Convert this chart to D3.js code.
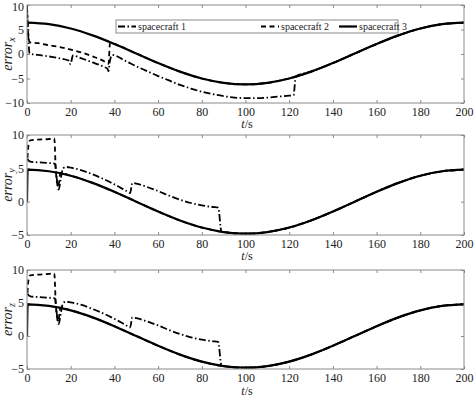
<!DOCTYPE html>
<html>
<head>
<meta charset="utf-8">
<script src="https://cdn.jsdelivr.net/npm/d3@7"></script>
<style>
  body { margin: 0; background: #fff; }
  svg { display: block; }
  svg text { font-family: "Liberation Serif", "Times New Roman", Times, "DejaVu Serif", serif; }
</style>
</head>
<body>
<svg id="chart" width="474" height="399"></svg>
<script>
const SERIES_NAMES = ["spacecraft 1", "spacecraft 2", "spacecraft 3"];
const T_TICKS = [0, 20, 40, 60, 80, 100, 120, 140, 160, 180, 200];
const X_ERR_TICKS = [-10, -5, 0, 5, 10];
const YZ_ERR_TICKS = [-5, 0, 5, 10];

// error_x, [t, value]
const errX_sc1 = [[0, 9.8], [0.4, 5.5], [1.2, 0.1], [5, -0.2], [10, -0.5], [15, -0.9], [19.4, -1.4], [19.8, -2.1],
  [20.3, -1.5], [21, -0.3], [25, -0.9], [30, -1.7], [35, -2.6], [36.8, -3.0], [37.3, -3.5], [37.9, -1.5], [39, -0.2],
  [45, -1.4], [50, -2.5], [55, -3.5], [60, -4.5], [65, -5.4], [70, -6.3], [75, -7.05], [80, -7.7], [85, -8.2],
  [90, -8.6], [95, -8.9], [100, -9.0], [105, -9.0], [110, -8.9], [115, -8.7], [120, -8.5], [122, -8.4], [123, -4.6],
  [130, -3.6], [140, -1.85], [150, 0.1], [160, 2.05], [170, 3.8], [180, 5.2], [190, 6.09], [200, 6.4]];
const errX_sc2 = [[0, 10], [0.5, 4.5], [1.2, 2.4], [5, 2.2], [10, 1.8], [15, 1.4], [20, 0.9], [25, 0.3], [30, -0.5],
  [35, -1.4], [37.3, -2.0], [38, 2.3], [40, 2.05], [50, 0.1], [60, -1.85], [70, -3.6], [80, -5.0], [90, -5.89],
  [100, -6.2], [110, -5.89], [120, -5.0], [130, -3.6], [140, -1.85], [150, 0.1], [160, 2.05], [170, 3.8], [180, 5.2],
  [190, 6.09], [200, 6.4]];
const errX_sc3 = [[0, 6.4], [10, 6.09], [20, 5.2], [30, 3.8], [40, 2.05], [50, 0.1], [60, -1.85], [70, -3.6],
  [80, -5.0], [90, -5.89], [100, -6.2], [110, -5.89], [120, -5.0], [130, -3.6], [140, -1.85], [150, 0.1],
  [160, 2.05], [170, 3.8], [180, 5.2], [190, 6.09], [200, 6.4]];

// error_y
const errY_sc1 = [[0.2, 6.4], [1.5, 6.0], [5, 5.9], [10, 5.8], [12.8, 5.7], [13.6, 3.5], [14.5, 1.8], [15.5, 3.5],
  [16.5, 5.0], [18, 5.2], [20, 5.1], [25, 4.7], [30, 4.1], [35, 3.4], [40, 2.6], [45, 1.7], [47.2, 1.3], [48.2, 2.8],
  [50, 2.7], [55, 2.2], [60, 1.6], [65, 0.9], [70, 0.3], [75, -0.2], [80, -0.55], [85, -0.8], [87.5, -0.9],
  [89, -4.5], [90, -4.56], [100, -4.8], [110, -4.56], [120, -3.88], [130, -2.82], [140, -1.48], [150, 0],
  [160, 1.48], [170, 2.82], [180, 3.88], [190, 4.56], [200, 4.8]];
const errY_sc2 = [[0.2, 6.5], [0.8, 8.8], [1.5, 9.2], [5, 9.3], [10, 9.4], [12.5, 9.5], [13.2, 4.6], [14.3, 2.2],
  [15.3, 4.3], [20, 3.88], [30, 2.82], [40, 1.48], [50, 0], [60, -1.48], [70, -2.82], [80, -3.88], [90, -4.56],
  [100, -4.8], [110, -4.56], [120, -3.88], [130, -2.82], [140, -1.48], [150, 0], [160, 1.48], [170, 2.82],
  [180, 3.88], [190, 4.56], [200, 4.8]];
const errY_sc3 = [[0, 0], [0.3, 4.8], [10, 4.56], [20, 3.88], [30, 2.82], [40, 1.48], [50, 0], [60, -1.48],
  [70, -2.82], [80, -3.88], [90, -4.56], [100, -4.8], [110, -4.56], [120, -3.88], [130, -2.82], [140, -1.48],
  [150, 0], [160, 1.48], [170, 2.82], [180, 3.88], [190, 4.56], [200, 4.8]];

// error_z
const errZ_sc1 = [[0.2, 6.4], [1.5, 6.0], [5, 5.9], [10, 5.8], [12.8, 5.7], [13.6, 3.5], [14.5, 1.8], [15.5, 3.5],
  [16.5, 5.0], [18, 5.2], [20, 5.1], [25, 4.7], [30, 4.1], [35, 3.4], [40, 2.6], [45, 1.7], [47.2, 1.3], [48.2, 2.8],
  [50, 2.7], [55, 2.2], [60, 1.6], [65, 0.9], [70, 0.3], [75, -0.2], [80, -0.55], [85, -0.8], [87.5, -0.9],
  [89, -4.5], [90, -4.56], [100, -4.8], [110, -4.56], [120, -3.88], [130, -2.82], [140, -1.48], [150, 0],
  [160, 1.48], [170, 2.82], [180, 3.88], [190, 4.56], [200, 4.8]];
const errZ_sc2 = [[0.2, 6.5], [0.8, 8.8], [1.5, 9.2], [5, 9.3], [10, 9.4], [12.5, 9.5], [13.2, 4.6], [14.3, 2.2],
  [15.3, 4.3], [20, 3.88], [30, 2.82], [40, 1.48], [50, 0], [60, -1.48], [70, -2.82], [80, -3.88], [90, -4.56],
  [100, -4.8], [110, -4.56], [120, -3.88], [130, -2.82], [140, -1.48], [150, 0], [160, 1.48], [170, 2.82],
  [180, 3.88], [190, 4.56], [200, 4.8]];
const errZ_sc3 = [[0, 0], [0.3, 4.8], [10, 4.56], [20, 3.88], [30, 2.82], [40, 1.48], [50, 0], [60, -1.48],
  [70, -2.82], [80, -3.88], [90, -4.56], [100, -4.8], [110, -4.56], [120, -3.88], [130, -2.82], [140, -1.48],
  [150, 0], [160, 1.48], [170, 2.82], [180, 3.88], [190, 4.56], [200, 4.8]];

const FRAME = "#8a8a8a";
const DASHES = ["7,2.5,1.5,2.5", "5,3.5", null];
const WIDTHS = [1.8, 1.8, 2.2];

const svg = d3.select("#chart");
const x = d3.scaleLinear().domain([0, 200]).range([27, 464]);

const panels = [
  {sub: "x", top: 5, bottom: 103, domain: [-10, 10], ticks: X_ERR_TICKS, series: [errX_sc1, errX_sc2, errX_sc3], tLabel: 128},
  {sub: "y", top: 135, bottom: 235, domain: [-5, 10], ticks: YZ_ERR_TICKS, series: [errY_sc1, errY_sc2, errY_sc3], tLabel: 260},
  {sub: "z", top: 270, bottom: 369, domain: [-5, 10], ticks: YZ_ERR_TICKS, series: [errZ_sc1, errZ_sc2, errZ_sc3], tLabel: 395}
];

function styleAxis(g) {
  g.attr("font-family", null).attr("font-size", null);
  g.select(".domain").remove();
  g.selectAll(".tick line").attr("stroke", FRAME);
  g.selectAll(".tick text").attr("fill", "#222").style("font-size", "12px");
}

panels.forEach((p, i) => {
  const y = d3.scaleLinear().domain(p.domain).range([p.bottom, p.top]);
  const g = svg.append("g");

  g.append("clipPath").attr("id", "clip" + i)
    .append("rect")
    .attr("x", x(0)).attr("y", p.top)
    .attr("width", x(200) - x(0)).attr("height", p.bottom - p.top);

  g.append("g").attr("transform", `translate(0,${p.bottom})`)
    .call(d3.axisBottom(x).tickValues(T_TICKS).tickSize(-3).tickPadding(4))
    .call(styleAxis);
  g.append("g").attr("transform", `translate(0,${p.top})`)
    .call(d3.axisTop(x).tickValues(T_TICKS).tickSize(-3).tickFormat(""))
    .call(styleAxis);
  g.append("g").attr("transform", `translate(${x(0)},0)`)
    .call(d3.axisLeft(y).tickValues(p.ticks).tickSize(-3).tickPadding(3))
    .call(styleAxis)
    // keep the top-most label inside the page
    .selectAll(".tick text")
    .filter(d => y(d) < 8)
    .attr("y", 2);
  g.append("g").attr("transform", `translate(${x(200)},0)`)
    .call(d3.axisRight(y).tickValues(p.ticks).tickSize(-3).tickFormat(""))
    .call(styleAxis);

  const line = d3.line()
    .x(d => x(d[0]))
    .y(d => y(d[1]))
    .curve(d3.curveMonotoneX);

  p.series.forEach((data, k) => {
    g.append("path")
      .datum(data)
      .attr("clip-path", `url(#clip${i})`)
      .attr("fill", "none")
      .attr("stroke", "#000")
      .attr("stroke-width", WIDTHS[k])
      .attr("stroke-dasharray", DASHES[k])
      .attr("d", line);
  });

  g.append("rect")
    .attr("x", x(0)).attr("y", p.top)
    .attr("width", x(200) - x(0)).attr("height", p.bottom - p.top)
    .attr("fill", "none").attr("stroke", FRAME);

  // y label
  const yl = g.append("text")
    .attr("transform", `translate(12,${(p.top + p.bottom) / 2}) rotate(-90)`)
    .attr("text-anchor", "middle")
    .style("font-size", "14px").style("font-style", "italic")
    .attr("fill", "#222");
  yl.append("tspan").text("error");
  yl.append("tspan").attr("dy", 3).style("font-size", "10px").text(p.sub);

  // t/s label
  const xl = g.append("text")
    .attr("x", 247).attr("y", p.tLabel)
    .attr("text-anchor", "middle")
    .style("font-size", "12px")
    .attr("fill", "#222");
  xl.append("tspan").style("font-style", "italic").text("t");
  xl.append("tspan").text("/s");
});

// legend on the top panel
const legend = svg.append("g");
legend.append("rect")
  .attr("x", 116).attr("y", 20).attr("width", 282).attr("height", 13)
  .attr("fill", "#fff").attr("stroke", FRAME);
const legendX = [118, 261, 339];
SERIES_NAMES.forEach((name, k) => {
  legend.append("line")
    .attr("x1", legendX[k]).attr("x2", legendX[k] + 18)
    .attr("y1", 26.5).attr("y2", 26.5)
    .attr("stroke", "#000").attr("stroke-width", WIDTHS[k])
    .attr("stroke-dasharray", DASHES[k]);
  legend.append("text")
    .attr("x", legendX[k] + 20).attr("y", 30)
    .style("font-size", "10px")
    .attr("fill", "#222")
    .text(name);
});
</script>
</body>
</html>
